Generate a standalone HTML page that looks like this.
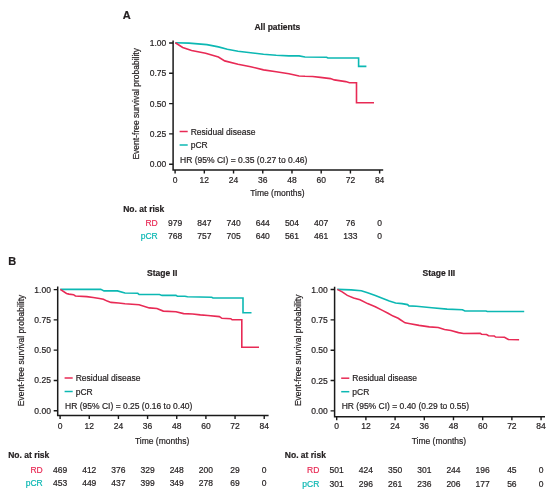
<!DOCTYPE html>
<html><head><meta charset="utf-8"><style>
html,body{margin:0;padding:0;background:#fff;}
body{width:550px;height:496px;overflow:hidden;}
svg{color:#231f20;display:block;filter:blur(0.3px);font-family:"Liberation Sans",sans-serif;font-size:8.5px;fill:#231f20;}
text{stroke:currentColor;stroke-width:0.2px;}
</style></head><body>
<svg width="550" height="496" viewBox="0 0 550 496">
<rect width="550" height="496" fill="#fff"/>
<text x="122.8" y="19.2" font-weight="bold" font-size="11">A</text>
<text x="8.2" y="264.6" font-weight="bold" font-size="11">B</text>
<path d="M173.1 40.6V169.9H383.2" fill="none" stroke="#1a1a1a" stroke-width="1.5"/>
<text x="166.3" y="167.2" text-anchor="end">0.00</text>
<text x="166.3" y="136.9" text-anchor="end">0.25</text>
<text x="166.3" y="106.6" text-anchor="end">0.50</text>
<text x="166.3" y="76.3" text-anchor="end">0.75</text>
<text x="166.3" y="46" text-anchor="end">1.00</text>
<text x="175.1" y="182.7" text-anchor="middle">0</text>
<text x="204.32" y="182.7" text-anchor="middle">12</text>
<text x="233.54" y="182.7" text-anchor="middle">24</text>
<text x="262.76" y="182.7" text-anchor="middle">36</text>
<text x="291.98" y="182.7" text-anchor="middle">48</text>
<text x="321.2" y="182.7" text-anchor="middle">60</text>
<text x="350.42" y="182.7" text-anchor="middle">72</text>
<text x="379.64" y="182.7" text-anchor="middle">84</text>
<path d="M169.1 164.2H173.1M169.1 133.9H173.1M169.1 103.6H173.1M169.1 73.3H173.1M169.1 43H173.1M175.1 169.9V173.4M204.32 169.9V173.4M233.54 169.9V173.4M262.76 169.9V173.4M291.98 169.9V173.4M321.2 169.9V173.4M350.42 169.9V173.4M379.64 169.9V173.4" fill="none" stroke="#1a1a1a" stroke-width="1.4"/>
<text x="277.37" y="29.7" text-anchor="middle" font-weight="bold">All patients</text>
<text x="277.37" y="196" text-anchor="middle">Time (months)</text>
<text transform="translate(139.1 103.8) rotate(-90)" text-anchor="middle">Event-free survival probability</text>
<path d="M179.6 131.5H187.7" stroke="#e82a55" stroke-width="1.5"/>
<path d="M179.6 145H187.7" stroke="#0cb8b3" stroke-width="1.5"/>
<text x="190.7" y="134.5">Residual disease</text>
<text x="190.7" y="148">pCR</text>
<text x="180.1" y="162.7">HR (95% CI) = 0.35 (0.27 to 0.46)</text>
<path d="M175.3 42.8 189 43.1 206.9 44.6 218.4 46.9 227.3 49.2 238 51.2 250.7 52.7 263.5 54.3 276.2 55.3 288.9 55.9 299.1 55.9 305 57 326.6 57.3 327.9 58 358.6 58 358.6 66.4 366.4 66.4" fill="none" stroke="#0cb8b3" stroke-width="1.6" stroke-linejoin="miter"/>
<path d="M175.3 42.8 182.7 47.5 191.6 50.5 205.6 53.3 218.4 57.1 224.7 60.9 238 64.2 250.7 66.7 263.5 69.9 276.2 71.8 288.9 73.7 299.1 76 305 76.3 312.6 76.5 320.3 77.4 330.5 78.6 334.3 79.9 345.7 81.6 349.5 82.8 356.5 82.8 356.5 102.7 374 102.7" fill="none" stroke="#e82a55" stroke-width="1.6" stroke-linejoin="miter"/>
<text x="123.2" y="211.7" font-weight="bold">No. at risk</text>
<text x="157.7" y="226" text-anchor="end" fill="#e82a55" color="#e82a55">RD</text>
<text x="157.7" y="239.4" text-anchor="end" fill="#0cb8b3" color="#0cb8b3">pCR</text>
<text x="175.1" y="226" text-anchor="middle">979</text>
<text x="175.1" y="239.4" text-anchor="middle">768</text>
<text x="204.32" y="226" text-anchor="middle">847</text>
<text x="204.32" y="239.4" text-anchor="middle">757</text>
<text x="233.54" y="226" text-anchor="middle">740</text>
<text x="233.54" y="239.4" text-anchor="middle">705</text>
<text x="262.76" y="226" text-anchor="middle">644</text>
<text x="262.76" y="239.4" text-anchor="middle">640</text>
<text x="291.98" y="226" text-anchor="middle">504</text>
<text x="291.98" y="239.4" text-anchor="middle">561</text>
<text x="321.2" y="226" text-anchor="middle">407</text>
<text x="321.2" y="239.4" text-anchor="middle">461</text>
<text x="350.42" y="226" text-anchor="middle">76</text>
<text x="350.42" y="239.4" text-anchor="middle">133</text>
<text x="379.64" y="226" text-anchor="middle">0</text>
<text x="379.64" y="239.4" text-anchor="middle">0</text>
<path d="M57.7 286.6V415.6H268.6" fill="none" stroke="#1a1a1a" stroke-width="1.5"/>
<text x="50.9" y="413.7" text-anchor="end">0.00</text>
<text x="50.9" y="383.43" text-anchor="end">0.25</text>
<text x="50.9" y="353.15" text-anchor="end">0.50</text>
<text x="50.9" y="322.88" text-anchor="end">0.75</text>
<text x="50.9" y="292.6" text-anchor="end">1.00</text>
<text x="60.1" y="429.2" text-anchor="middle">0</text>
<text x="89.26" y="429.2" text-anchor="middle">12</text>
<text x="118.42" y="429.2" text-anchor="middle">24</text>
<text x="147.58" y="429.2" text-anchor="middle">36</text>
<text x="176.74" y="429.2" text-anchor="middle">48</text>
<text x="205.9" y="429.2" text-anchor="middle">60</text>
<text x="235.06" y="429.2" text-anchor="middle">72</text>
<text x="264.22" y="429.2" text-anchor="middle">84</text>
<path d="M53.7 410.7H57.7M53.7 380.43H57.7M53.7 350.15H57.7M53.7 319.88H57.7M53.7 289.6H57.7M60.1 415.6V419.1M89.26 415.6V419.1M118.42 415.6V419.1M147.58 415.6V419.1M176.74 415.6V419.1M205.9 415.6V419.1M235.06 415.6V419.1M264.22 415.6V419.1" fill="none" stroke="#1a1a1a" stroke-width="1.4"/>
<text x="162.16" y="275.5" text-anchor="middle" font-weight="bold">Stage II</text>
<text x="162.16" y="443.5" text-anchor="middle">Time (months)</text>
<text transform="translate(23.7 350.4) rotate(-90)" text-anchor="middle">Event-free survival probability</text>
<path d="M64.6 378H72.7" stroke="#e82a55" stroke-width="1.5"/>
<path d="M64.6 391.5H72.7" stroke="#0cb8b3" stroke-width="1.5"/>
<text x="75.7" y="381">Residual disease</text>
<text x="75.7" y="394.5">pCR</text>
<text x="65.1" y="409.2">HR (95% CI) = 0.25 (0.16 to 0.40)</text>
<path d="M60.3 289.4 100.8 289.4 104 290.9 117.4 290.9 125 293 137.8 293.3 139.1 294.5 159.5 294.5 162 295.4 176 295.4 177.3 296.2 184.9 296.2 187.5 296.8 211.7 297.3 213 298 243 298 243 312.8 251.5 312.8" fill="none" stroke="#0cb8b3" stroke-width="1.6" stroke-linejoin="miter"/>
<path d="M60.3 289.4 66.5 293.5 69 294.1 73.5 294.7 75.4 296 86.8 296.6 93.2 297.5 99.5 298.5 103.4 299.2 107.2 301.1 111 302.4 118.6 303 125 303.8 139.1 304.7 149.3 307.9 156.9 308.5 163.3 311.1 176 311.7 183.6 313.6 192.6 314 200.3 314.9 207.9 315.5 219.4 316.6 221.9 318.3 230.8 318.7 232.1 319.8 241.8 319.8 241.8 347.2 259 347.2" fill="none" stroke="#e82a55" stroke-width="1.6" stroke-linejoin="miter"/>
<text x="8.2" y="458.4" font-weight="bold">No. at risk</text>
<text x="42.7" y="472.7" text-anchor="end" fill="#e82a55" color="#e82a55">RD</text>
<text x="42.7" y="486.4" text-anchor="end" fill="#0cb8b3" color="#0cb8b3">pCR</text>
<text x="60.1" y="472.7" text-anchor="middle">469</text>
<text x="60.1" y="486.4" text-anchor="middle">453</text>
<text x="89.26" y="472.7" text-anchor="middle">412</text>
<text x="89.26" y="486.4" text-anchor="middle">449</text>
<text x="118.42" y="472.7" text-anchor="middle">376</text>
<text x="118.42" y="486.4" text-anchor="middle">437</text>
<text x="147.58" y="472.7" text-anchor="middle">329</text>
<text x="147.58" y="486.4" text-anchor="middle">399</text>
<text x="176.74" y="472.7" text-anchor="middle">248</text>
<text x="176.74" y="486.4" text-anchor="middle">349</text>
<text x="205.9" y="472.7" text-anchor="middle">200</text>
<text x="205.9" y="486.4" text-anchor="middle">278</text>
<text x="235.06" y="472.7" text-anchor="middle">29</text>
<text x="235.06" y="486.4" text-anchor="middle">69</text>
<text x="264.22" y="472.7" text-anchor="middle">0</text>
<text x="264.22" y="486.4" text-anchor="middle">0</text>
<path d="M334.6 286.8V416.7H545" fill="none" stroke="#1a1a1a" stroke-width="1.5"/>
<text x="327.8" y="413.9" text-anchor="end">0.00</text>
<text x="327.8" y="383.55" text-anchor="end">0.25</text>
<text x="327.8" y="353.2" text-anchor="end">0.50</text>
<text x="327.8" y="322.85" text-anchor="end">0.75</text>
<text x="327.8" y="292.5" text-anchor="end">1.00</text>
<text x="336.7" y="429.4" text-anchor="middle">0</text>
<text x="365.9" y="429.4" text-anchor="middle">12</text>
<text x="395.09" y="429.4" text-anchor="middle">24</text>
<text x="424.29" y="429.4" text-anchor="middle">36</text>
<text x="453.48" y="429.4" text-anchor="middle">48</text>
<text x="482.68" y="429.4" text-anchor="middle">60</text>
<text x="511.88" y="429.4" text-anchor="middle">72</text>
<text x="541.07" y="429.4" text-anchor="middle">84</text>
<path d="M330.6 410.9H334.6M330.6 380.55H334.6M330.6 350.2H334.6M330.6 319.85H334.6M330.6 289.5H334.6M336.7 416.7V420.2M365.9 416.7V420.2M395.09 416.7V420.2M424.29 416.7V420.2M453.48 416.7V420.2M482.68 416.7V420.2M511.88 416.7V420.2M541.07 416.7V420.2" fill="none" stroke="#1a1a1a" stroke-width="1.4"/>
<text x="438.89" y="275.5" text-anchor="middle" font-weight="bold">Stage III</text>
<text x="438.89" y="443.5" text-anchor="middle">Time (months)</text>
<text transform="translate(300.6 350.3) rotate(-90)" text-anchor="middle">Event-free survival probability</text>
<path d="M341.2 378.2H349.3" stroke="#e82a55" stroke-width="1.5"/>
<path d="M341.2 391.7H349.3" stroke="#0cb8b3" stroke-width="1.5"/>
<text x="352.3" y="381.2">Residual disease</text>
<text x="352.3" y="394.7">pCR</text>
<text x="341.7" y="409.4">HR (95% CI) = 0.40 (0.29 to 0.55)</text>
<path d="M337.3 289.4 351.1 289.9 361.3 290.7 367.6 292.8 375.3 295.4 382.9 298.5 389.3 301.1 395.6 303 402 303.6 407.6 304.6 408.9 305.9 416.5 306.3 431.8 307.8 447.1 309.1 462.4 309.7 464.9 311 486 311 487.3 311.5 524.2 311.5" fill="none" stroke="#0cb8b3" stroke-width="1.6" stroke-linejoin="miter"/>
<path d="M337.3 289.4 342.2 291.9 347.3 295.4 353.6 297.9 360 299.8 367.6 303.6 375.3 306.8 382.9 310.6 388 313.2 393.1 316.1 398.2 318.3 400 319.5 405.1 322.8 410.2 323.7 419.1 325.4 429.3 326.9 438.2 327.5 444.5 329.5 450.9 330.5 458.5 332.6 463.6 333.5 480.3 333.4 481.5 334.2 486.6 334.5 488.5 335.7 494.3 336 495.5 337 504.5 337.3 508.3 339.5 519.1 339.8" fill="none" stroke="#e82a55" stroke-width="1.6" stroke-linejoin="miter"/>
<text x="284.8" y="458.4" font-weight="bold">No. at risk</text>
<text x="319.3" y="472.6" text-anchor="end" fill="#e82a55" color="#e82a55">RD</text>
<text x="319.3" y="486.5" text-anchor="end" fill="#0cb8b3" color="#0cb8b3">pCR</text>
<text x="336.7" y="472.6" text-anchor="middle">501</text>
<text x="336.7" y="486.5" text-anchor="middle">301</text>
<text x="365.9" y="472.6" text-anchor="middle">424</text>
<text x="365.9" y="486.5" text-anchor="middle">296</text>
<text x="395.09" y="472.6" text-anchor="middle">350</text>
<text x="395.09" y="486.5" text-anchor="middle">261</text>
<text x="424.29" y="472.6" text-anchor="middle">301</text>
<text x="424.29" y="486.5" text-anchor="middle">236</text>
<text x="453.48" y="472.6" text-anchor="middle">244</text>
<text x="453.48" y="486.5" text-anchor="middle">206</text>
<text x="482.68" y="472.6" text-anchor="middle">196</text>
<text x="482.68" y="486.5" text-anchor="middle">177</text>
<text x="511.88" y="472.6" text-anchor="middle">45</text>
<text x="511.88" y="486.5" text-anchor="middle">56</text>
<text x="541.07" y="472.6" text-anchor="middle">0</text>
<text x="541.07" y="486.5" text-anchor="middle">0</text>
</svg>
</body></html>
